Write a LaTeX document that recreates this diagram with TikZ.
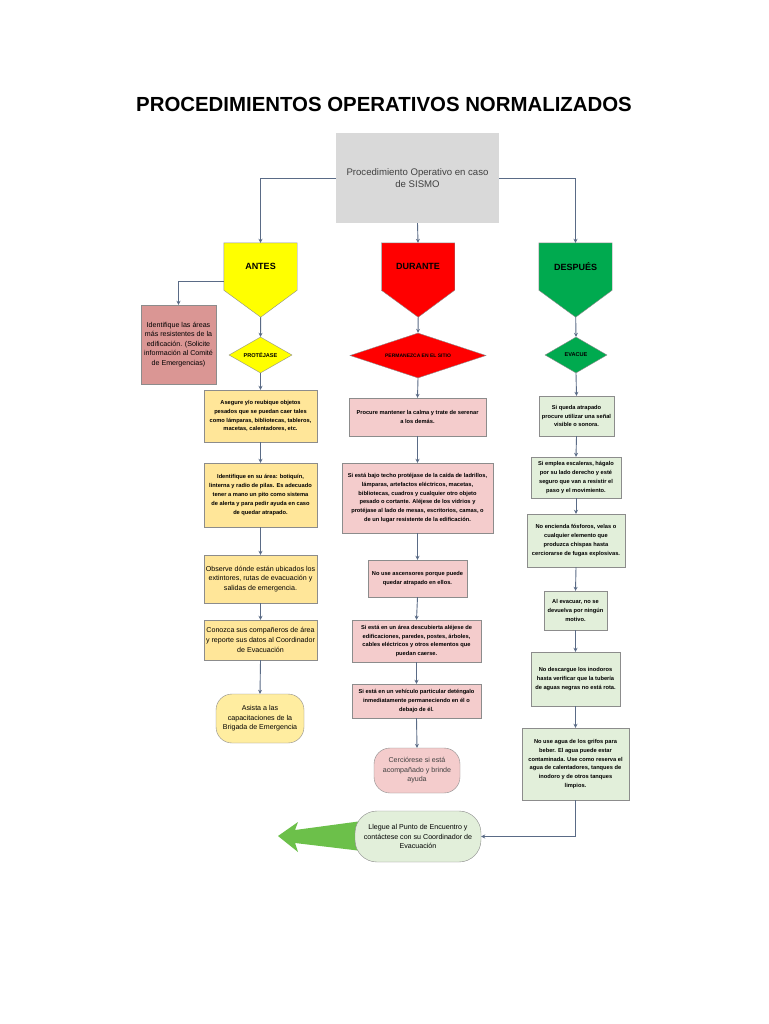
\documentclass[tikz,border=0pt]{standalone}
\usepackage{fontspec}
\setmainfont{Liberation Sans}
\usepackage{xcolor}
\usetikzlibrary{shapes.geometric,arrows.meta}

\definecolor{lineas}{HTML}{5A6B86}
\definecolor{borde}{HTML}{8C8C8C}
\definecolor{amarillo}{HTML}{FFFF00}
\definecolor{rojo}{HTML}{FF0000}
\definecolor{verde}{HTML}{00AA4F}
\definecolor{grisclaro}{HTML}{D9D9D9}
\definecolor{rosaoscuro}{HTML}{DA9694}
\definecolor{crema}{HTML}{FFE699}
\definecolor{cremaclara}{HTML}{FFEDA0}
\definecolor{rosa}{HTML}{F4CCCC}
\definecolor{verdeclaro}{HTML}{E2EFDA}
\definecolor{verdeflecha}{HTML}{6CC04A}

\tikzset{
  conector/.style={draw=lineas, line width=0.9pt, -{Stealth[length=4pt,width=4pt]}},
  fase/.style={minimum width=73pt, minimum height=47pt, inner sep=0pt,
    font=\fontsize{9}{10}\selectfont\bfseries},
  accion/.style={diamond, draw=borde, inner sep=0pt, font=\fontsize{5.6}{7}\selectfont\bfseries},
  paso/.style={draw=borde, align=center, inner sep=2pt},
  letrachica/.style={font=\fontsize{5.7}{8.8}\selectfont\bfseries, inner sep=1pt},
  letranormal/.style={font=\fontsize{7.1}{9.6}\selectfont},
  redondo/.style={paso, rounded corners=16pt},
}

\begin{document}
\begin{tikzpicture}[x=1pt,y=-1pt]
        \fill[white] (0,0) rectangle (768,1024);
        \useasboundingbox (0,0) rectangle (768,1024);

        % titulo y caja de arriba
        \node[font=\fontsize{20.4}{23}\selectfont\bfseries] (titulo) at (384,104) {PROCEDIMIENTOS OPERATIVOS NORMALIZADOS};
        \node[fill=grisclaro, minimum width=163pt, minimum height=90pt, align=center,
          text=black!75, font=\fontsize{9.6}{12.5}\selectfont] (sismo) at (417.5,178) {Procedimiento Operativo en caso\\ de SISMO};

        % fases
        \node[fase, fill=amarillo] (antes) at (260.5,266.5) {ANTES};
        \fill[amarillo] (antes.south west) -- (antes.south east) -- ++(-36.5,27) coordinate (antespunta) -- cycle;
        \draw[borde] (antes.north west) -- (antes.north east) -- (antes.south east) -- (antespunta)
          -- (antes.south west) -- cycle;

        \node[fase, fill=rojo] (durante) at (418,266.5) {DURANTE};
        \fill[rojo] (durante.south west) -- (durante.south east) -- ++(-36.5,27) coordinate (durantepunta) -- cycle;
        \draw[borde] (durante.north west) -- (durante.north east) -- (durante.south east) -- (durantepunta)
          -- (durante.south west) -- cycle;

        \node[fase, fill=verde] (despues) at (575.5,266.5) {DESPUÉS};
        \fill[verde] (despues.south west) -- (despues.south east) -- ++(-36.5,27) coordinate (despuespunta) -- cycle;
        \draw[borde] (despues.north west) -- (despues.north east) -- (despues.south east) -- (despuespunta)
          -- (despues.south west) -- cycle;

        \node[paso, fill=rosaoscuro, minimum width=75pt, minimum height=79pt, letranormal] (zonas) at (178.5,344.5)
          {Identifique las áreas\\ más resistentes de la\\ edificación. (Solicite\\ información al Comité\\ de Emergencias)};

        % acciones
        \node[accion, fill=amarillo, aspect=1.75, minimum width=63pt, minimum height=36pt] (protejase) at (260.5,355) {PROTÉJASE};
        \node[accion, fill=rojo, aspect=3, minimum width=136pt, minimum height=45pt, font=\fontsize{5}{6}\selectfont\bfseries] (permanezca) at (418,355.5) {PERMANEZCA EN EL SITIO};
        \node[accion, fill=verde, aspect=1.72, minimum width=62pt, minimum height=36pt] (evacue) at (576,355) {EVACUE};

        % columna antes
        \node[paso, fill=crema, minimum width=113pt, minimum height=52pt, letrachica] (a1) at (260.5,416)
          {Asegure y/o reubique objetos\\ pesados que se puedan caer tales\\ como lámparas, bibliotecas, tableros,\\ macetas, calentadores, etc.};
        \node[paso, fill=crema, minimum width=113pt, minimum height=64pt, letrachica] (a2) at (260.5,495)
          {Identifique en su área: botiquín,\\ linterna y radio de pilas. Es adecuado\\ tener a mano un pito como sistema\\ de alerta y para pedir ayuda en caso\\ de quedar atrapado.};
        \node[paso, fill=crema, minimum width=113pt, minimum height=48pt, letranormal] (a3) at (260.5,579)
          {Observe dónde están ubicados los\\ extintores, rutas de evacuación y\\ salidas de emergencia.};
        \node[paso, fill=crema, minimum width=113pt, minimum height=40pt, letranormal] (a4) at (260.5,640)
          {Conozca sus compañeros de área\\ y reporte sus datos al Coordinador\\ de Evacuación};
        \node[redondo, fill=cremaclara, minimum width=88pt, minimum height=49pt, letranormal] (a5) at (260,718.5)
          {Asista a las\\ capacitaciones de la\\ Brigada de Emergencia};

        % columna durante
        \node[paso, fill=rosa, minimum width=137pt, minimum height=38pt, letrachica] (d1) at (417.5,417)
          {Procure mantener la calma y trate de serenar\\ a los demás.};
        \node[paso, fill=rosa, minimum width=151pt, minimum height=70pt, letrachica] (d2) at (417.5,498)
          {Si está bajo techo protéjase de la caída de ladrillos,\\ lámparas, artefactos eléctricos, macetas,\\ bibliotecas, cuadros y cualquier otro objeto\\ pesado o cortante. Aléjese de los vidrios y\\ protéjase al lado de mesas, escritorios, camas, o\\ de un lugar resistente de la edificación.};
        \node[paso, fill=rosa, minimum width=99pt, minimum height=37pt, letrachica] (d3) at (417.5,578.5)
          {No use ascensores porque puede\\ quedar atrapado en ellos.};
        \node[paso, fill=rosa, minimum width=129pt, minimum height=42pt, letrachica] (d4) at (416.5,641)
          {Si está en un área descubierta aléjese de\\ edificaciones, paredes, postes, árboles,\\ cables eléctricos y otros elementos que\\ puedan caerse.};
        \node[paso, fill=rosa, minimum width=129pt, minimum height=34pt, letrachica] (d5) at (416.5,701)
          {Si está en un vehículo particular deténgalo\\ inmediatamente permaneciendo en él o\\ debajo de él.};
        \node[redondo, fill=rosa, minimum width=86pt, minimum height=45pt, letranormal, text=black!75] (d6) at (417,770.5)
          {Cerciórese si está\\ acompañado y brinde\\ ayuda};

        % columna despues
        \node[paso, fill=verdeclaro, minimum width=75pt, minimum height=40pt, letrachica] (e1) at (576.5,416)
          {Si queda atrapado\\ procure utilizar una señal\\ visible o sonora.};
        \node[paso, fill=verdeclaro, minimum width=90pt, minimum height=41pt, letrachica] (e2) at (576,477.5)
          {Si emplea escaleras, hágalo\\ por su lado derecho y esté\\ seguro que van a resistir el\\ paso y el movimiento.};
        \node[paso, fill=verdeclaro, minimum width=98pt, minimum height=53pt, letrachica] (e3) at (576,540.5)
          {No encienda fósforos, velas o\\ cualquier elemento que\\ produzca chispas hasta\\ cerciorarse de fugas explosivas.};
        \node[paso, fill=verdeclaro, minimum width=63pt, minimum height=39pt, letrachica] (e4) at (575.5,610.5)
          {Al evacuar, no se\\ devuelva por ningún\\ motivo.};
        \node[paso, fill=verdeclaro, minimum width=89pt, minimum height=54pt, letrachica] (e5) at (575.5,679)
          {No descargue los inodoros\\ hasta verificar que la tubería\\ de aguas negras no está rota.};
        \node[paso, fill=verdeclaro, minimum width=107pt, minimum height=72pt, letrachica] (e6) at (575.5,764)
          {No use agua de los grifos para\\ beber. El agua puede estar\\ contaminada. Use como reserva el\\ agua de calentadores, tanques de\\ inodoro y de otros tanques\\ limpios.};

        % punto de encuentro
        \fill[verdeflecha] (278,836) -- (298,822) -- (295,830) -- (362,821) -- (362,851)
          -- (295,843) -- (298,852) -- cycle;
        \node[redondo, rounded corners=22pt, fill=verdeclaro, minimum width=126pt, minimum height=51pt,
          letranormal] (llegue) at (418,836.5)
          {Llegue al Punto de Encuentro y\\ contáctese con su Coordinador de\\ Evacuación};

        % conectores
        \draw[conector] (sismo.west) -| (antes.north);
        \draw[conector] (sismo.south) -- (durante.north);
        \draw[conector] (sismo.east) -| (despues.north);
        \draw[conector] ([yshift=-15pt]antes.west) -| (zonas.north);

        \draw[conector] (antespunta) -- (protejase.north);
        \draw[conector] (durantepunta) -- (permanezca.north);
        \draw[conector] (despuespunta) -- (evacue.north);

        \foreach \de/\a in {protejase/a1, a1/a2, a2/a3, a3/a4, a4/a5,
                             permanezca/d1, d1/d2, d2/d3, d3/d4, d4/d5, d5/d6,
                             evacue/e1, e1/e2, e2/e3, e3/e4, e4/e5, e5/e6}
          \draw[conector] (\de.south) -- (\a.north);

        \draw[conector] (e6.south) |- (llegue.east);
    \end{tikzpicture}
\end{document}
